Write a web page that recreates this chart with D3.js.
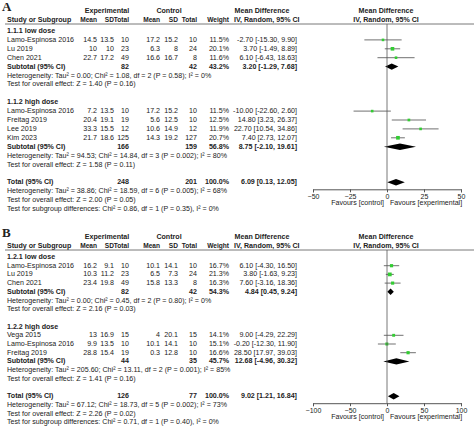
<!DOCTYPE html>
<html><head><meta charset="utf-8">
<script src="https://cdn.jsdelivr.net/npm/d3@7"></script>
<style>body{margin:0;background:#fff}text{font-family:"Liberation Sans",Arial,sans-serif;font-size:7.1px;fill:#222}</style>
</head><body><svg id="c" width="474" height="429"></svg>
<script>
// Panel A data
const aGroups = ["1.1.1 low dose","1.1.2 high dose"];
const aStudies = [
 ["Lamo-Espinosa 2016","14.5","13.5","10","17.2","15.2","10","11.5%","-2.70 [-15.30, 9.90]",-2.70,-15.30,9.90,11.5,0],
 ["Lu 2019","10","10","23","6.3","8","24","20.1%","3.70 [-1.49, 8.89]",3.70,-1.49,8.89,20.1,0],
 ["Chen 2021","22.7","17.2","49","16.6","16.7","8","11.6%","6.10 [-6.43, 18.63]",6.10,-6.43,18.63,11.6,0],
 ["Lamo-Espinosa 2016","7.2","13.5","10","17.2","15.2","10","11.5%","-10.00 [-22.60, 2.60]",-10.00,-22.60,2.60,11.5,1],
 ["Freitag 2019","20.4","19.1","19","5.6","12.5","10","12.5%","14.80 [3.23, 26.37]",14.80,3.23,26.37,12.5,1],
 ["Lee  2019","33.3","15.5","12","10.6","14.9","12","11.9%","22.70 [10.54, 34.86]",22.70,10.54,34.86,11.9,1],
 ["Kim 2023","21.7","18.6","125","14.3","19.2","127","20.7%","7.40 [2.73, 12.07]",7.40,2.73,12.07,20.7,1]];
const aSubtotals = [["82","42","43.2%","3.20 [-1.29, 7.68]",3.20,-1.29,7.68],["166","159","56.8%","8.75 [-2.10, 19.61]",8.75,-2.10,19.61]];
const aHet = ["Heterogeneity: Tau² = 0.00; Chi² = 1.08, df = 2 (P = 0.58); I² = 0%","Heterogeneity: Tau² = 94.53; Chi² = 14.84, df = 3 (P = 0.002); I² = 80%"];
const aTest = ["Test for overall effect: Z = 1.40 (P = 0.16)","Test for overall effect: Z = 1.58 (P = 0.11)"];
const aTotal = ["248","201","100.0%","6.09 [0.13, 12.05]",6.09,0.13,12.05];
const aFoot = ["Heterogeneity: Tau² = 38.86; Chi² = 18.59, df = 6 (P = 0.005); I² = 68%","Test for overall effect: Z = 2.00 (P = 0.05)","Test for subgroup differences: Chi² = 0.86, df = 1 (P = 0.35), I² = 0%"];
const aTicks = [-50,-25,0,25,50];
// Panel B data
const bGroups = ["1.2.1 low dose","1.2.2 high dose"];
const bStudies = [
 ["Lamo-Espinosa 2016","16.2","9.1","10","10.1","14.1","10","16.7%","6.10 [-4.30, 16.50]",6.10,-4.30,16.50,16.7,0],
 ["Lu 2019","10.3","11.2","23","6.5","7.3","24","21.3%","3.80 [-1.63, 9.23]",3.80,-1.63,9.23,21.3,0],
 ["Chen 2021","23.4","19.8","49","15.8","13.3","8","16.3%","7.60 [-3.16, 18.36]",7.60,-3.16,18.36,16.3,0],
 ["Vega 2015","13","16.9","15","4","20.1","15","14.1%","9.00 [-4.29, 22.29]",9.00,-4.29,22.29,14.1,1],
 ["Lamo-Espinosa 2016","9.9","13.5","10","10.1","14.1","10","15.1%","-0.20 [-12.30, 11.90]",-0.20,-12.30,11.90,15.1,1],
 ["Freitag 2019","28.8","15.4","19","0.3","12.8","10","16.6%","28.50 [17.97, 39.03]",28.50,17.97,39.03,16.6,1]];
const bSubtotals = [["82","42","54.3%","4.84 [0.45, 9.24]",4.84,0.45,9.24],["44","35","45.7%","12.68 [-4.96, 30.32]",12.68,-4.96,30.32]];
const bHet = ["Heterogeneity: Tau² = 0.00; Chi² = 0.45, df = 2 (P = 0.80); I² = 0%","Heterogeneity: Tau² = 205.60; Chi² = 13.11, df = 2 (P = 0.001); I² = 85%"];
const bTest = ["Test for overall effect: Z = 2.16 (P = 0.03)","Test for overall effect: Z = 1.41 (P = 0.16)"];
const bTotal = ["126","77","100.0%","9.02 [1.21, 16.84]",9.02,1.21,16.84];
const bFoot = ["Heterogeneity: Tau² = 67.12; Chi² = 18.73, df = 5 (P = 0.002); I² = 73%","Test for overall effect: Z = 2.26 (P = 0.02)","Test for subgroup differences: Chi² = 0.71, df = 1 (P = 0.40), I² = 0%"];
const bTicks = [-100,-50,0,50,100];

const svg = d3.select("#c");
const colsR = [97,114,129,160,178,197,229,297];

function panel(label, top, step, groups, studies, subs, het, test, total, foot, ticks, dom){
  const g = svg.append("g");
  const row = d3.scaleLinear().domain([0,1]).range([top+9, top+9+step]);
  const x = d3.scaleLinear().domain(dom).range([313,461]);
  g.append("text").attr("x",2).attr("y",top-11).text(label).style("font-size","13px").style("font-weight","bold").style("font-family","Liberation Serif,serif");
  const h1=top-9, h2=top;
  [["Experimental",107],["Control",169],["Mean Difference",262],["Mean Difference",386]].forEach(d=>
    g.append("text").attr("x",d[1]).attr("y",h1).attr("text-anchor","middle").style("font-weight","bold").text(d[0]));
  g.append("text").attr("x",7).attr("y",h2).style("font-weight","bold").text("Study or Subgroup");
  ["Mean","SD","Total","Mean","SD","Total","Weight"].forEach((t,i)=>
    g.append("text").attr("x",colsR[i]).attr("y",h2).attr("text-anchor","end").style("font-weight","bold").style("font-size","6.6px").text(t));
  g.append("text").attr("x",234).attr("y",h2).style("font-weight","bold").text("IV, Random, 95% CI");
  g.append("text").attr("x",386).attr("y",h2).attr("text-anchor","middle").style("font-weight","bold").text("IV, Random, 95% CI");
  g.append("line").attr("x1",5).attr("x2",474).attr("y1",h2+2).attr("y2",h2+2).attr("stroke","#555").attr("stroke-width",0.8);
  let r=0;
  const diamond=(d,y)=>g.append("path").attr("d",`M${x(d[1])},${y}L${x(d[0])},${y-3.2}L${x(d[2])},${y}L${x(d[0])},${y+3.2}Z`).attr("fill","#000");
  groups.forEach((gn,gi)=>{
    g.append("text").attr("x",7).attr("y",row(r)+2).style("font-weight","bold").text(gn); r++;
    studies.filter(s=>s[13]===gi).forEach(s=>{
      const y=row(r)+2;
      g.append("text").attr("x",7).attr("y",y).text(s[0]);
      for(let i=1;i<=8;i++) g.append("text").attr("x",colsR[i-1]).attr("y",y).attr("text-anchor","end").text(s[i]);
      g.append("line").attr("x1",x(s[10])).attr("x2",x(s[11])).attr("y1",y-2).attr("y2",y-2).attr("stroke","#333").attr("stroke-width",0.7);
      const sz=1.2+s[12]*0.12;
      g.append("rect").attr("x",x(s[9])-sz/2).attr("y",y-2-sz/2).attr("width",sz).attr("height",sz).attr("fill","#3c3");
      r++;
    });
    const st=subs[gi], y=row(r)+2;
    g.append("text").attr("x",7).attr("y",y).style("font-weight","bold").text("Subtotal (95% CI)");
    [[st[0],129],[st[1],197],[st[2],229],[st[3],297]].forEach(d=>g.append("text").attr("x",d[1]).attr("y",y).attr("text-anchor","end").style("font-weight","bold").text(d[0]));
    diamond(st.slice(4),y-2); r++;
    g.append("text").attr("x",7).attr("y",row(r)+2).text(het[gi]); r++;
    g.append("text").attr("x",7).attr("y",row(r)+2).text(test[gi]); r+=2;
  });
  const ty=row(r)+2;
  g.append("text").attr("x",7).attr("y",ty).style("font-weight","bold").text("Total (95% CI)");
  [[total[0],129],[total[1],197],[total[2],229],[total[3],297]].forEach(d=>g.append("text").attr("x",d[1]).attr("y",ty).attr("text-anchor","end").style("font-weight","bold").text(d[0]));
  diamond(total.slice(4),ty-2);
  foot.forEach((f,i)=>g.append("text").attr("x",7).attr("y",row(r+1+i)+2).text(f));
  const ay=row(r)+7;
  g.append("line").attr("x1",x(0)).attr("x2",x(0)).attr("y1",h2+2).attr("y2",ay).attr("stroke","#555").attr("stroke-width",0.8);
  const ax=g.append("g").attr("transform",`translate(0,${ay})`).call(d3.axisBottom(x).tickValues(ticks).tickSize(3).tickFormat(d3.format("d")));
  ax.select(".domain").attr("stroke","#555"); ax.selectAll("line").attr("stroke","#555");
  ax.selectAll("text").style("font-size","7px").attr("dy","0.5em").attr("fill","#222");
  g.append("text").attr("x",x(0)-3).attr("y",ay+16).attr("text-anchor","end").text("Favours [control]");
  g.append("text").attr("x",x(0)+3).attr("y",ay+16).text("Favours [experimental]");
}
panel("A",22,8.9,aGroups,aStudies,aSubtotals,aHet,aTest,aTotal,aFoot,aTicks,[-50,50]);
panel("B",248,8.7,bGroups,bStudies,bSubtotals,bHet,bTest,bTotal,bFoot,bTicks,[-100,100]);
</script></body></html>
